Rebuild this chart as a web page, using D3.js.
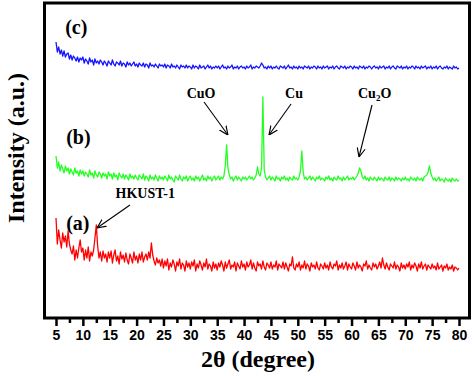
<!DOCTYPE html>
<html>
<head>
<meta charset="utf-8">
<script src="https://cdn.jsdelivr.net/npm/d3@7"></script>
<style>
  html, body { margin: 0; padding: 0; background: #fff; }
  svg { display: block; }
  .serif { font-family: "Times New Roman", "Liberation Serif", serif; font-weight: bold; }
  .sans { font-family: Arial, "Liberation Sans", sans-serif; font-weight: bold; }
</style>
</head>
<body>
<div id="chart"></div>
<script>
// 2-theta sampling grid (degrees) shared by all three patterns, 0.25 deg step
const angles = d3.range(5, 80.001, 0.25);

// (c) top pattern, intensity in a.u. (stacked offset)
const seriesC = [
  276, 266, 271, 264, 268, 262, 267, 261, 264, 265, 259, 263, 258, 262, 260, 257, 261, 256, 260, 258,
  261, 255, 259, 257, 254, 260, 256, 258, 253, 259, 255, 257, 254, 258, 256, 253, 257, 255, 252, 257,
  255, 253, 258, 254, 252, 256, 255, 253, 257, 252, 255, 254, 251, 256, 253, 255, 252, 254, 256, 252,
  254, 251, 255, 253, 252, 255, 251, 254, 253, 250, 255, 252, 253, 251, 254, 252, 250, 254, 252, 253,
  251, 254, 250, 253, 252, 250, 254, 251, 252, 250, 253, 251, 249, 253, 251, 252, 250, 253, 250, 252,
  251, 249, 253, 250, 252, 251, 249, 253, 250, 251, 252, 249, 251, 253, 250, 252, 249, 251, 250, 252,
  250, 252, 249, 251, 253, 250, 251, 249, 252, 250, 251, 253, 249, 251, 250, 252, 249, 251, 252, 250,
  251, 249, 252, 250, 251, 253, 249, 251, 250, 252, 251, 250, 252, 255, 253, 250, 251, 249, 252, 250,
  252, 249, 251, 250, 252, 250, 249, 252, 251, 250, 252, 249, 251, 253, 250, 251, 249, 252, 250, 251,
  249, 252, 250, 251, 249, 252, 251, 250, 252, 249, 251, 250, 252, 251, 249, 252, 250, 251, 249, 252,
  250, 251, 252, 249, 251, 250, 252, 249, 251, 252, 250, 249, 252, 251, 250, 252, 249, 251, 250, 252,
  251, 249, 252, 250, 251, 249, 252, 251, 250, 252, 249, 251, 250, 252, 251, 249, 251, 252, 250, 251,
  249, 252, 250, 251, 252, 249, 251, 250, 252, 249, 251, 252, 250, 249, 252, 251, 250, 252, 249, 251,
  250, 252, 249, 251, 250, 252, 251, 249, 252, 250, 251, 249, 252, 250, 251, 252, 249, 251, 250, 252,
  249, 251, 250, 252, 249, 251, 252, 250, 249, 251, 250, 252, 249, 251, 250, 249, 252, 250, 251, 249,
  250
];

// (b) middle pattern
const seriesB = [
  162, 150, 156, 147, 153, 149, 145, 152, 147, 150, 144, 149, 146, 143, 150, 145, 147, 142, 148, 144,
  147, 142, 146, 144, 141, 148, 143, 145, 140, 147, 143, 141, 146, 144, 140, 145, 142, 144, 139, 146,
  142, 144, 139, 145, 141, 143, 138, 145, 142, 140, 144, 139, 143, 141, 138, 144, 140, 142, 139, 143,
  140, 138, 143, 141, 139, 144, 138, 142, 140, 137, 143, 139, 141, 138, 143, 140, 137, 142, 139, 141,
  138, 142, 140, 137, 143, 139, 141, 138, 136, 142, 140, 138, 143, 139, 137, 141, 139, 142, 137, 140,
  142, 138, 140, 137, 142, 139, 141, 137, 140, 143, 138, 140, 137, 142, 139, 141, 137, 140, 142, 138,
  140, 142, 138, 141, 139, 142, 152, 173, 150, 143, 139, 141, 137, 140, 142, 138, 141, 139, 137, 141,
  139, 141, 138, 140, 142, 139, 141, 138, 140, 143, 151, 144, 142, 150, 221, 148, 141, 138, 140, 142,
  138, 141, 139, 137, 142, 139, 140, 137, 141, 139, 142, 138, 140, 137, 141, 139, 138, 142, 139, 140,
  138, 141, 147, 167, 146, 139, 141, 138, 140, 142, 138, 141, 139, 137, 141, 139, 142, 138, 140, 139,
  137, 141, 139, 142, 138, 140, 137, 141, 139, 138, 142, 139, 140, 137, 141, 138, 140, 142, 138, 140,
  139, 141, 138, 140, 142, 145, 150, 147, 141, 139, 142, 138, 140, 137, 141, 139, 138, 141, 139, 137,
  141, 138, 140, 139, 137, 141, 139, 138, 141, 137, 140, 139, 137, 141, 138, 140, 139, 137, 140, 138,
  141, 138, 139, 137, 141, 139, 138, 140, 137, 141, 139, 138, 140, 137, 141, 142, 143, 146, 152, 145,
  141, 138, 140, 137, 139, 141, 137, 139, 138, 136, 140, 138, 137, 139, 136, 140, 138, 137, 139, 137,
  138
];

// (a) bottom pattern
const seriesA = [
  100, 74, 88, 78, 70, 85, 76, 82, 71, 87, 74, 68, 64, 72, 58, 68, 60, 70, 78, 66,
  70, 58, 68, 60, 71, 57, 66, 62, 68, 80, 93, 72, 60, 66, 57, 67, 60, 64, 56, 66,
  60, 67, 55, 63, 68, 57, 62, 54, 66, 59, 63, 56, 65, 58, 54, 64, 60, 55, 66, 58,
  62, 55, 64, 58, 66, 56, 61, 64, 58, 66, 60, 75, 63, 57, 53, 60, 55, 58, 52, 59,
  50, 57, 52, 59, 48, 55, 51, 58, 54, 47, 56, 52, 59, 49, 55, 53, 47, 57, 51, 55,
  49, 56, 52, 58, 47, 54, 50, 57, 53, 48, 55, 51, 59, 49, 54, 52, 47, 56, 50, 54,
  48, 55, 51, 57, 53, 47, 56, 50, 54, 58, 49, 53, 51, 56, 47, 55, 52, 49, 57, 51,
  54, 48, 56, 51, 53, 58, 49, 55, 50, 47, 56, 52, 54, 49, 57, 51, 48, 55, 53, 50,
  56, 49, 53, 51, 57, 48, 54, 52, 50, 56, 49, 55, 51, 47, 54, 52, 61, 50, 48, 54,
  51, 56, 48, 53, 50, 57, 49, 54, 52, 47, 55, 51, 53, 49, 56, 50, 48, 54, 52, 49,
  55, 50, 53, 48, 56, 51, 49, 54, 52, 57, 48, 53, 50, 55, 49, 52, 56, 48, 54, 51,
  49, 55, 52, 48, 56, 50, 53, 51, 47, 54, 52, 57, 49, 53, 50, 48, 55, 51, 54, 49,
  52, 56, 50, 60, 53, 49, 55, 51, 48, 54, 52, 50, 56, 49, 53, 51, 47, 55, 50, 53,
  49, 54, 51, 56, 48, 53, 50, 55, 52, 47, 54, 50, 56, 49, 52, 54, 48, 53, 51, 49,
  54, 50, 52, 48, 55, 49, 51, 53, 47, 52, 50, 54, 48, 51, 49, 53, 47, 51, 50, 48,
  50
];

const seriesColors = ['#ff0000', '#22ff22', '#1414ff'];
const majorTicks = d3.range(5, 80.001, 5);
const minorTicks = d3.range(7.5, 80, 5);

// labels & arrows in data units: [angle, intensity]
const seriesLabels = [
  { text: '(a)', at: [6.9, 88] },
  { text: '(b)', at: [6.9, 174] },
  { text: '(c)', at: [6.7, 284] }
];
const phaseLabels = [
  { text: 'CuO', at: [32.0, 220], tail: [32.55, 216], tip: [37.0, 183] },
  { text: 'Cu', at: [49.3, 220], tail: [48.74, 214], tip: [44.64, 183] },
  { text: 'Cu2O', at: [64.3, 220], tail: [63.81, 213], tip: [61.39, 161] },
  { text: 'HKUST-1', at: [21.6, 120], tail: [18.77, 113], tip: [12.63, 90] }
];

const W = 474, H = 376;
const M = { left: 44.5, top: 3, right: 4.5, bottom: 58 };
const iw = W - M.left - M.right;
const ih = H - M.top - M.bottom;

const svg = d3.select('#chart').append('svg')
  .attr('width', W).attr('height', H);

const g = svg.append('g').attr('transform', `translate(${M.left},${M.top})`);

const x = d3.scaleLinear().domain([5, 80]).range([11.5, 414.5]);
const y = d3.scaleLinear().domain([0, 315]).range([ih, 0]);

// patterns
const line = d3.line()
  .defined((d) => d[1] != null)
  .x((d) => x(d[0])).y((d) => y(d[1]));
[seriesA, seriesB, seriesC].forEach((s, i) => {
  g.append('path')
    .datum(angles.map((a, j) => [a, s[j]]))
    .attr('fill', 'none')
    .attr('stroke', seriesColors[i])
    .attr('stroke-width', 1.3)
    .attr('stroke-linejoin', 'round')
    .attr('d', line);
});

// axis ticks
g.append('g').attr('transform', `translate(0,${ih})`)
  .call(d3.axisBottom(x).tickValues(minorTicks).tickSize(5).tickFormat(''))
  .call((sel) => sel.select('.domain').remove())
  .call((sel) => sel.selectAll('line').attr('stroke', '#000').attr('stroke-width', 2.5));
g.append('g').attr('transform', `translate(0,${ih})`)
  .call(d3.axisBottom(x).tickValues(majorTicks).tickSize(8).tickPadding(4).tickFormat(d3.format('d')))
  .call((sel) => sel.select('.domain').remove())
  .call((sel) => sel.selectAll('line').attr('stroke', '#000').attr('stroke-width', 2.5))
  .call((sel) => sel.selectAll('text').attr('class', 'sans')
    .attr('font-size', 14).attr('fill', '#000'));

// frame
g.append('rect')
  .attr('x', 0).attr('y', 0).attr('width', iw).attr('height', ih)
  .attr('fill', 'none').attr('stroke', '#000').attr('stroke-width', 3);

// arrow marker
svg.append('defs').append('marker')
  .attr('id', 'arr').attr('viewBox', '0 0 10 10')
  .attr('refX', 10).attr('refY', 5)
  .attr('markerWidth', 9).attr('markerHeight', 9)
  .attr('markerUnits', 'userSpaceOnUse')
  .attr('orient', 'auto')
  .append('path').attr('d', 'M0,0.5 L10,5 L0,9.5')
  .attr('fill', 'none').attr('stroke', '#000').attr('stroke-width', 1.3);

phaseLabels.forEach((p) => {
  g.append('line')
    .attr('x1', x(p.tail[0])).attr('y1', y(p.tail[1]))
    .attr('x2', x(p.tip[0])).attr('y2', y(p.tip[1]))
    .attr('stroke', '#000').attr('stroke-width', 1.1)
    .attr('marker-end', 'url(#arr)');
  const t = g.append('text').attr('class', 'serif')
    .attr('x', x(p.at[0])).attr('y', y(p.at[1]))
    .attr('text-anchor', 'middle').attr('font-size', 14);
  if (p.text === 'Cu2O') {
    t.append('tspan').text('Cu');
    t.append('tspan').text('2').attr('font-size', 9).attr('dy', 3);
    t.append('tspan').text('O').attr('dy', -3);
  } else {
    t.text(p.text);
  }
});

seriesLabels.forEach((s) => {
  g.append('text').attr('class', 'serif')
    .attr('x', x(s.at[0])).attr('y', y(s.at[1]))
    .attr('font-size', 20).text(s.text);
});

// axis titles
svg.append('text').attr('class', 'serif')
  .attr('x', M.left + iw / 2 + 1).attr('y', 367)
  .attr('text-anchor', 'middle').attr('font-size', 24)
  .text('2θ (degree)');
svg.append('text').attr('class', 'serif')
  .attr('transform', `translate(24,148) rotate(-90)`)
  .attr('text-anchor', 'middle').attr('font-size', 24)
  .text('Intensity (a.u.)');
</script>
</body>
</html>
